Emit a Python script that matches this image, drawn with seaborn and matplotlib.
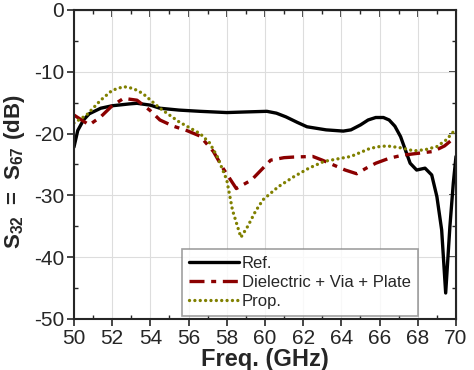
import seaborn as sns
import pandas as pd
import matplotlib.pyplot as plt
import matplotlib.ticker as mt

# Ref. (solid black)
ref_f = [50.0, 50.2, 50.5, 50.8, 51.4, 52.0, 52.9, 53.3, 54.0, 54.5, 55.5, 56.6, 58.0, 59.0, 60.1,
         60.6, 61.1, 61.7, 62.2, 63.2, 64.1, 64.5, 65.0, 65.4, 65.8, 66.2, 66.5, 66.8, 67.1, 67.6,
         67.94, 68.38, 68.73, 69.0, 69.25, 69.46, 69.68, 69.86, 70.0]
ref_db = [-22.2, -19.5, -17.8, -16.8, -15.9, -15.5, -15.2, -15.1, -15.4, -15.9, -16.2, -16.4, -16.6, -16.5, -16.4,
          -16.7, -17.3, -18.2, -18.9, -19.4, -19.6, -19.4, -18.6, -17.8, -17.4, -17.4, -17.8, -18.8, -20.5, -24.8,
          -25.9, -25.6, -26.7, -30.2, -35.6, -45.8, -35.1, -28.0, -23.7]

# Dielectric + Via + Plate (dark red dash-dot)
die_f = [50.0, 50.4, 50.8, 51.4, 52.0, 52.6, 53.3, 54.0, 54.5, 55.2, 55.9, 56.6, 57.3, 57.8, 58.5,
         59.3, 60.3, 61.0, 61.5, 62.5, 63.0, 63.6, 64.2, 64.8, 65.3, 65.8, 66.5, 67.2, 68.0, 68.8,
         69.4, 69.95]
die_db = [-17.0, -17.8, -18.6, -17.3, -15.5, -14.3, -14.6, -16.3, -17.8, -18.8, -19.5, -20.4, -22.9, -25.6, -28.9,
          -27.5, -24.3, -23.9, -23.8, -23.7, -24.3, -25.1, -25.9, -26.5, -25.6, -24.8, -24.0, -23.5, -23.2, -22.9,
          -22.0, -20.6]

# Prop. (olive dotted)
prop_f = [50.0, 50.66, 51.4, 52.0, 52.6, 53.1, 53.6, 54.5, 55.5, 56.6, 57.1, 57.5, 58.0, 58.3, 58.74,
          59.1, 59.5, 59.9, 60.7, 61.5, 62.3, 63.1, 64.5, 65.5, 66.0, 66.4, 67.1, 67.8, 68.4, 69.0,
          69.5, 69.95]
prop_db = [-18.3, -17.0, -14.6, -13.0, -12.4, -12.7, -13.5, -15.9, -18.1, -20.0, -21.5, -23.7, -27.5, -32.4, -36.8,
           -35.0, -32.6, -30.7, -28.6, -27.0, -25.6, -24.5, -23.7, -22.4, -22.1, -22.0, -22.3, -22.8, -22.6, -22.1,
           -21.0, -19.4]

sns.set_style("ticks")
plt.rcParams['font.family'] = ['Liberation Sans', 'DejaVu Sans']
plt.rcParams['mathtext.fontset'] = 'custom'
plt.rcParams['mathtext.rm'] = 'Liberation Sans'
plt.rcParams['mathtext.bf'] = 'Liberation Sans:bold'
plt.rcParams['axes.unicode_minus'] = False

fig = plt.figure(figsize=(4.74, 3.7), dpi=100)
ax = fig.add_axes([0.156, 0.138, 0.806, 0.835])

ref = pd.DataFrame({'f': ref_f, 'db': ref_db})
die = pd.DataFrame({'f': die_f, 'db': die_db})
prop = pd.DataFrame({'f': prop_f, 'db': prop_db})

sns.lineplot(data=ref, x='f', y='db', ax=ax, color='black', lw=2.4, label='Ref.')
sns.lineplot(data=die, x='f', y='db', ax=ax, color='#8b0000', lw=2.4, label='Dielectric + Via + Plate')
ax.lines[-1].set_dashes([4.5, 2, 1.5, 2])
sns.lineplot(data=prop, x='f', y='db', ax=ax, color='#808000', lw=2.4, label='Prop.')
ax.lines[-1].set_dashes([0.01, 1.6])
ax.lines[-1].set_dash_capstyle('round')

ax.set_xlim(50, 70)
ax.set_ylim(-50, 0)
ax.xaxis.set_major_locator(mt.MultipleLocator(2))
ax.xaxis.set_minor_locator(mt.MultipleLocator(1))
ax.yaxis.set_major_locator(mt.MultipleLocator(10))
ax.yaxis.set_minor_locator(mt.MultipleLocator(5))
ax.grid(True, which='major', color='#dddddd', lw=0.8)
ax.tick_params(which='major', direction='out', length=5, width=1.2, labelsize=15, pad=2)
ax.tick_params(which='minor', direction='in', length=3, width=1.0)
for s in ax.spines.values():
    s.set_linewidth(1.5)

# inward ticks on top and right
top = ax.secondary_xaxis('top')
top.xaxis.set_major_locator(mt.MultipleLocator(2))
top.xaxis.set_minor_locator(mt.MultipleLocator(1))
top.tick_params(which='major', direction='in', length=5, width=1.2, labeltop=False)
top.tick_params(which='minor', direction='in', length=3, width=1.0)
right = ax.secondary_yaxis('right')
right.yaxis.set_major_locator(mt.MultipleLocator(10))
right.yaxis.set_minor_locator(mt.MultipleLocator(5))
right.tick_params(which='major', direction='in', length=5, width=1.2, labelright=False)
right.tick_params(which='minor', direction='in', length=3, width=1.0)

ax.set_xlabel('Freq. (GHz)', fontsize=17, fontweight='bold', labelpad=0)
ax.set_ylabel(r'$\mathbf{S_{32}\ =\ S_{67}\ (dB)}$', fontsize=16)
ax.yaxis.set_label_coords(-0.123, 0.475)

leg = ax.legend(loc='lower left', bbox_to_anchor=(0.283, 0.01), fontsize=12, frameon=True,
                fancybox=False, edgecolor='#888888', handlelength=3.0, handletextpad=0.2,
                borderpad=0.4, labelspacing=0.25, borderaxespad=0)
leg.get_frame().set_linewidth(1.2)

fig.savefig('out.png', dpi=100)
